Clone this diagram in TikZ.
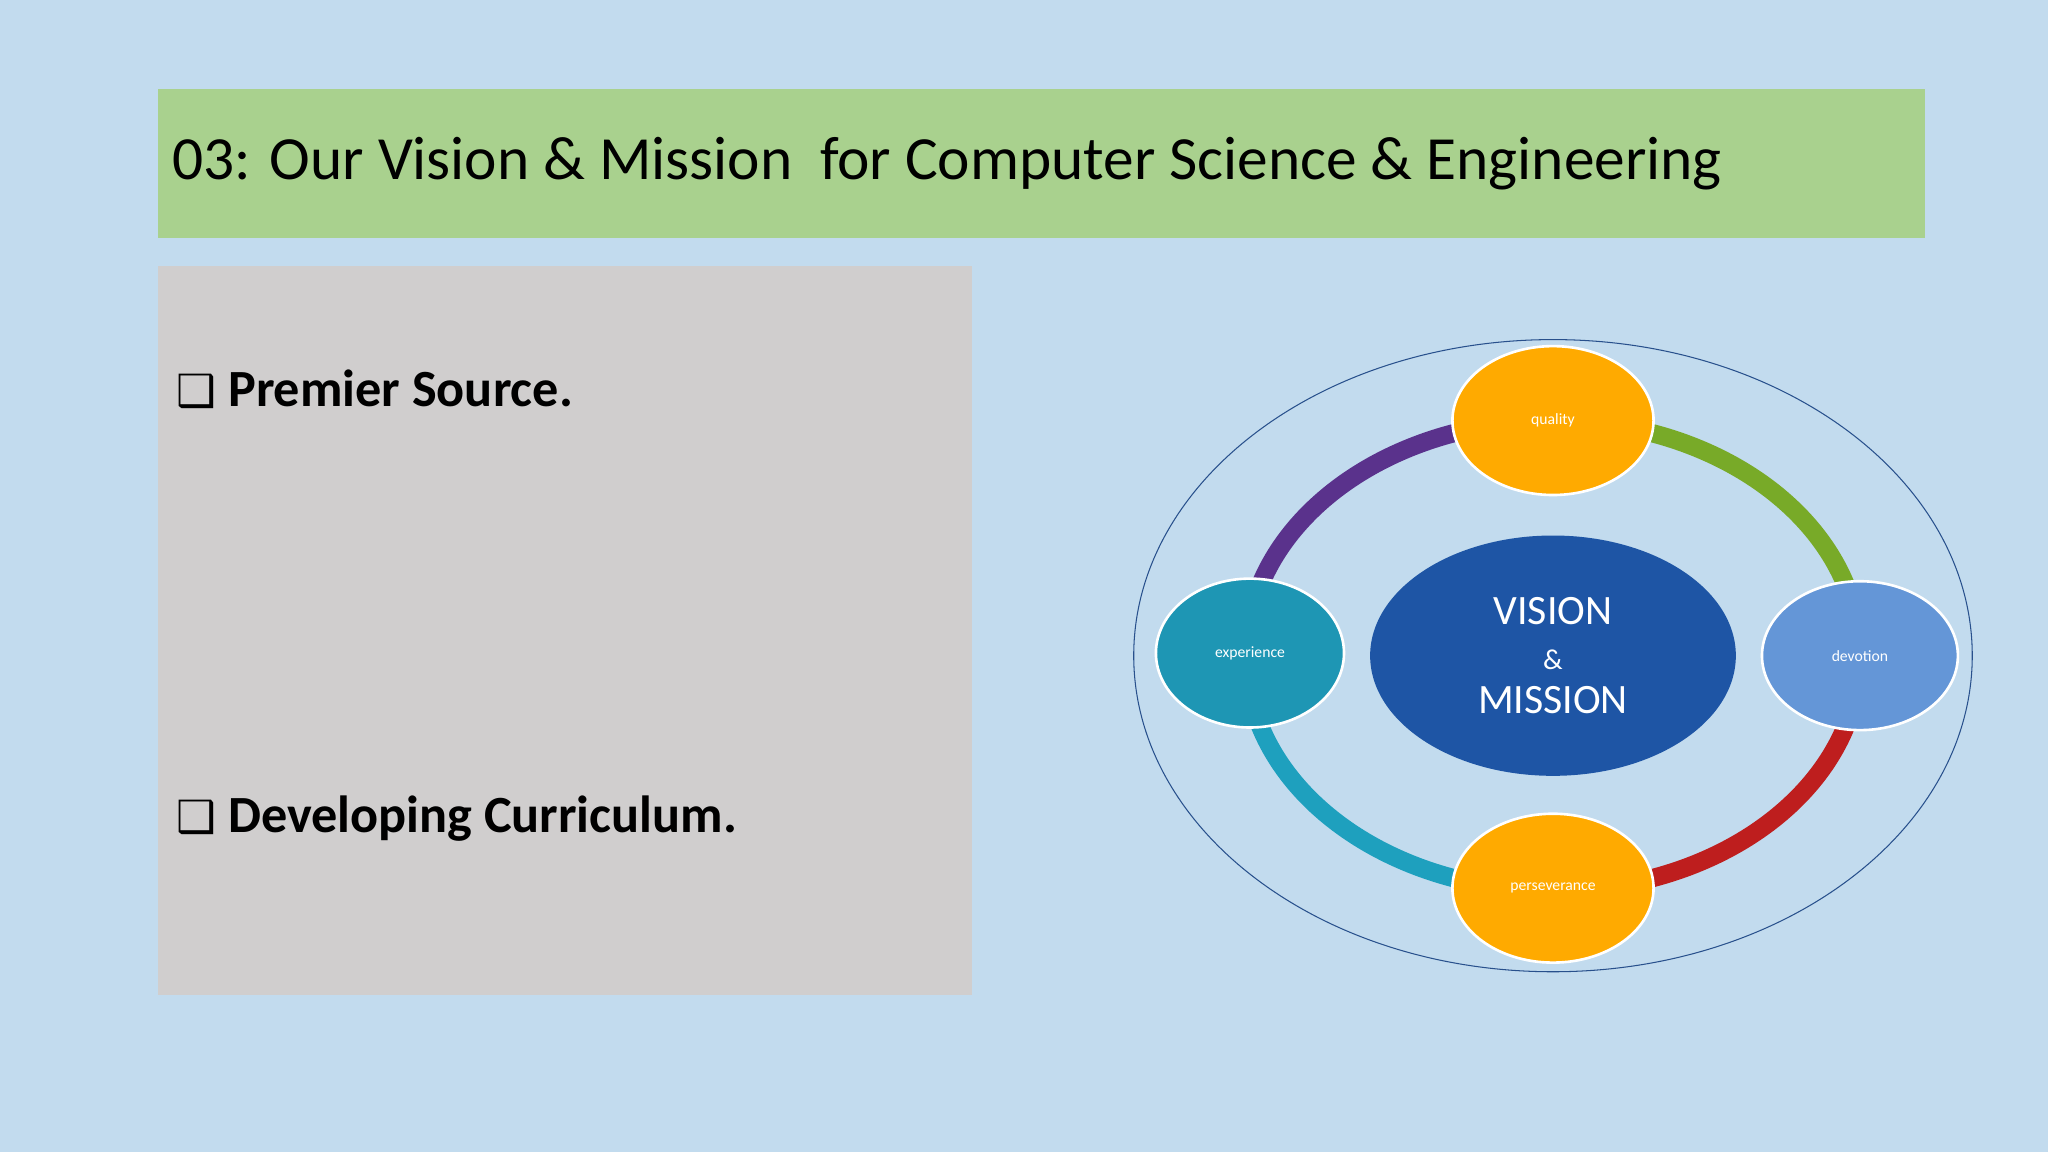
\documentclass[tikz,border=0pt]{standalone}
\usepackage{fontspec}
\setmainfont{Carlito}
\newfontfamily\symfont{DejaVu Sans}
\usetikzlibrary{shapes.geometric}
\definecolor{bg}{RGB}{194,219,238}
\definecolor{titlegreen}{RGB}{169,209,142}
\definecolor{greybox}{RGB}{208,206,206}
\definecolor{orangeN}{RGB}{255,170,0}
\definecolor{tealN}{RGB}{30,150,180}
\definecolor{blueN}{RGB}{100,150,215}
\definecolor{centerN}{RGB}{30,85,165}
\definecolor{ringteal}{RGB}{30,160,190}
\definecolor{ringred}{RGB}{190,30,30}
\definecolor{ringgreen}{RGB}{120,170,40}
\definecolor{ringpurple}{RGB}{90,50,140}
\definecolor{outline}{RGB}{40,80,140}
\tikzset{
  bullettext/.style={anchor=west,font=\fontsize{40}{44}\selectfont\bfseries,inner sep=0},
  satellite/.style={ellipse,draw=white,line width=2pt,text=white,font=\fontsize{12}{14}\selectfont,minimum height=114pt},
  ring/.style={line width=14pt}
}
\begin{document}
\begin{tikzpicture}[x=1pt,y=-1pt]
\fill[bg] (0,0) rectangle (1568,882);
\useasboundingbox (0,0) rectangle (1568,882);
\fill[titlegreen] (121,68) rectangle (1474,182);
\node[anchor=west,inner sep=0,font=\fontsize{47}{50}\selectfont] (title) at (132,125) {03: Our Vision \& Mission \ for Computer Science \& Engineering};
\fill[greybox] (121,204) rectangle (744,762);
\node[bullettext] (b1) at (135,298) {{\symfont\fontsize{34}{40}\selectfont ❑} Premier Source.};
\node[bullettext] (b2) at (135,627) {{\symfont\fontsize{34}{40}\selectfont ❑} Developing Curriculum.};
\draw[outline,line width=0.8pt] (1189,502) ellipse [x radius=321,y radius=242];
\draw[ring,ringteal] (1189,502) ++(95:235 and 180) arc[start angle=95,end angle=170,x radius=235,y radius=180];
\draw[ring,ringred] (1189,502) ++(10:235 and 180) arc[start angle=10,end angle=85,x radius=235,y radius=180];
\draw[ring,ringgreen] (1189,502) ++(-10:235 and 180) arc[start angle=-10,end angle=-85,x radius=235,y radius=180];
\draw[ring,ringpurple] (1189,502) ++(-95:235 and 180) arc[start angle=-95,end angle=-170,x radius=235,y radius=180];
\node[satellite,fill=orangeN,minimum width=154pt] (quality) at (1189,322) {quality};
\node[satellite,fill=orangeN,minimum width=154pt] (persev) at (1189,680) {perseverance};
\node[satellite,fill=tealN,minimum width=144pt] (exper) at (957,500) {experience};
\node[satellite,fill=blueN,minimum width=150pt] (devot) at (1424,502) {devotion};
\node[ellipse,fill=centerN,minimum width=280pt,minimum height=184pt,text=white,align=center,font=\fontsize{32}{36}\selectfont] (center) at (1189,502) {VISION\\[-2pt]{\fontsize{22}{26}\selectfont\&}\\[-2pt]MISSION};
\end{tikzpicture}
\end{document}
